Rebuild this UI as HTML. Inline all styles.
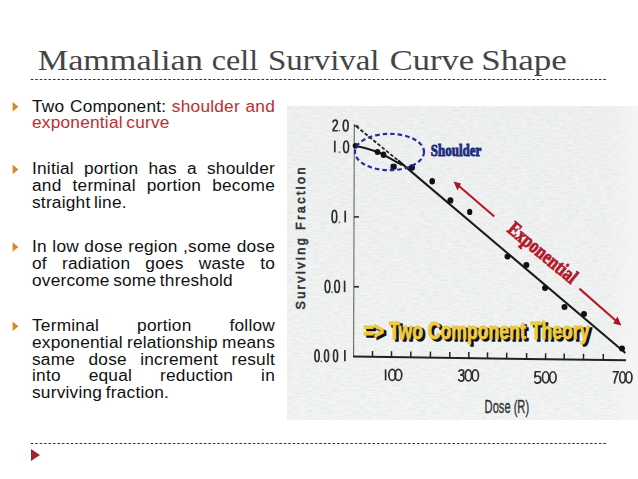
<!DOCTYPE html>
<html><head><meta charset="utf-8">
<style>
html,body{margin:0;padding:0;background:#fff;}
body{width:638px;height:479px;position:relative;overflow:hidden;font-family:"Liberation Sans",sans-serif;}
.ln{position:absolute;left:32px;width:243px;font-size:17.3px;line-height:20px;color:#111;white-space:nowrap;letter-spacing:0.22px;word-spacing:-1.5px;}
.j{text-align:justify;text-align-last:justify;}
.r{color:#c22c2e;}
</style></head><body>
<svg style="position:absolute;left:0;top:0" width="638" height="90"><g font-family="Liberation Serif, serif" font-size="28.7" fill="#454545" lengthAdjust="spacingAndGlyphs">
<text x="37.8" y="70" textLength="165" lengthAdjust="spacingAndGlyphs">Mammalian</text>
<text x="211.8" y="70" textLength="46.3" lengthAdjust="spacingAndGlyphs">cell</text>
<text x="268" y="70" textLength="111.5" lengthAdjust="spacingAndGlyphs">Survival</text>
<text x="389.7" y="70" textLength="84.3" lengthAdjust="spacingAndGlyphs">Curve</text>
<text x="481.2" y="70" textLength="85.5" lengthAdjust="spacingAndGlyphs">Shape</text>
</g></svg>
<svg style="position:absolute;left:0;top:0" width="638" height="479"><g stroke="#3d3333" stroke-width="1.1" stroke-dasharray="2.6 1.838"><line x1="30.8" y1="79.5" x2="606" y2="79.5"/><line x1="30.8" y1="443.5" x2="606" y2="443.5"/></g></svg>

<div class="ln j" style="top:95.5px">Two Component: <span class="r">shoulder and</span></div>
<div class="ln r" style="top:112.3px">exponential curve</div>

<div class="ln j" style="top:158px">Initial portion has a shoulder</div>
<div class="ln j" style="top:175px">and terminal portion become</div>
<div class="ln" style="top:192px">straight line.</div>

<div class="ln j" style="top:235.8px">In low dose region ,some dose</div>
<div class="ln j" style="top:252.8px">of radiation goes waste to</div>
<div class="ln" style="top:269.6px">overcome some threshold</div>

<div class="ln j" style="top:314.8px">Terminal portion follow</div>
<div class="ln j" style="top:331.7px">exponential relationship means</div>
<div class="ln j" style="top:348.6px">same dose increment result</div>
<div class="ln j" style="top:365.4px">into equal reduction in</div>
<div class="ln" style="top:382.3px">surviving fraction.</div>

<svg style="position:absolute;left:0;top:0" width="60" height="479"><g fill="#dc862c">
<polygon points="12.6,102 18.4,106.8 12.6,111.6"/>
<polygon points="12.6,164.6 18.4,169.4 12.6,174.2"/>
<polygon points="12.6,242.2 18.4,247 12.6,251.8"/>
<polygon points="12.6,321.4 18.4,326.2 12.6,331"/>
</g><polygon points="31,449 40,455 31,461" fill="#a3202c"/></svg>

<svg style="position:absolute;left:0;top:0" width="638" height="479" viewBox="0 0 638 479">
  <defs>
    <linearGradient id="bg" x1="0" y1="0" x2="0" y2="1">
      <stop offset="0" stop-color="#f0f2f2"/>
      <stop offset="0.5" stop-color="#f1f3f3"/>
      <stop offset="1" stop-color="#f3f5f5"/>
    </linearGradient>
    <linearGradient id="bgr" x1="0" y1="0" x2="1" y2="0">
      <stop offset="0" stop-color="#f4f6f4" stop-opacity="0"/>
      <stop offset="1" stop-color="#f4f6f4" stop-opacity="1"/>
    </linearGradient>
    <filter id="tex" x="0" y="0" width="100%" height="100%">
      <feTurbulence type="fractalNoise" baseFrequency="0.15 0.6" numOctaves="2" seed="3" result="n"/>
      <feColorMatrix type="matrix" values="0 0 0 0 0.55  0 0 0 0 0.57  0 0 0 0 0.57  0 0 0 -1.6 1.0" />
    </filter>
  </defs>
  <rect x="287" y="106" width="351" height="314" fill="url(#bg)"/>
  <rect x="287" y="106" width="351" height="314" filter="url(#tex)" opacity="0.3"/>
  <rect x="610" y="106" width="28" height="314" fill="url(#bgr)"/>
  <g font-family="Liberation Sans, sans-serif" fill="#2a2a2a">
    <!-- axes -->
    <line x1="354.3" y1="124" x2="353.6" y2="357" stroke="#666" stroke-width="1.1"/>
    <line x1="353" y1="356.6" x2="626" y2="360.3" stroke="#222" stroke-width="2"/>
    <g stroke="#222" stroke-width="1.5">
      <line x1="372.5" y1="357" x2="372.5" y2="351"/>
      <line x1="391.5" y1="357.2" x2="391.5" y2="351.2"/>
      <line x1="410.8" y1="357.4" x2="410.8" y2="351.4"/>
      <line x1="430.4" y1="357.6" x2="430.4" y2="351.6"/>
      <line x1="449.8" y1="357.9" x2="449.8" y2="351.9"/>
      <line x1="468.8" y1="358.1" x2="468.8" y2="352.1"/>
      <line x1="487.5" y1="358.4" x2="487.5" y2="352.4"/>
      <line x1="506.7" y1="358.7" x2="506.7" y2="352.7"/>
      <line x1="526.6" y1="359" x2="526.6" y2="353"/>
      <line x1="545.6" y1="359.3" x2="545.6" y2="353.3"/>
      <line x1="564.2" y1="359.5" x2="564.2" y2="353.5"/>
      <line x1="583.5" y1="359.8" x2="583.5" y2="353.8"/>
      <line x1="603.3" y1="360" x2="603.3" y2="354"/>
      <line x1="354" y1="126" x2="358.5" y2="126"/>
      <line x1="354" y1="216.9" x2="359" y2="216.9"/>
      <line x1="354" y1="286.8" x2="359" y2="286.8"/>
    </g>
    <!-- labels -->
    <g fill="none" stroke="#2e2e2e" stroke-width="1.7"><path d="M333.05,122.38 C333.05,119.35 337.35,119.35 337.35,122.64 C337.35,125.20 333.05,127.76 333.05,130.75 L337.77,130.75"/><circle cx="339.30" cy="130.60" r="0.94" stroke="none" fill="#777"/><ellipse cx="345.70" cy="125.50" rx="2.45" ry="5.45"/><path d="M334.80,140.65 L334.80,152.35"/><circle cx="339.50" cy="152.20" r="0.94" stroke="none" fill="#777"/><ellipse cx="346.10" cy="146.80" rx="2.45" ry="5.75"/><ellipse cx="334.40" cy="216.50" rx="2.35" ry="6.05"/><circle cx="339.40" cy="222.40" r="0.94" stroke="none" fill="#777"/><path d="M345.20,210.65 L345.20,222.35"/><ellipse cx="327.50" cy="286.40" rx="2.35" ry="5.95"/><circle cx="332.00" cy="292.20" r="0.94" stroke="none" fill="#777"/><ellipse cx="337.10" cy="286.40" rx="2.35" ry="5.95"/><path d="M344.60,280.65 L344.60,292.15"/><ellipse cx="317.05" cy="355.70" rx="2.10" ry="5.85"/><circle cx="321.30" cy="361.40" r="0.94" stroke="none" fill="#777"/><ellipse cx="326.55" cy="355.70" rx="2.00" ry="5.85"/><ellipse cx="335.55" cy="355.70" rx="2.00" ry="5.85"/><path d="M344.90,350.05 L344.90,361.35"/><path d="M385.60,369.35 L385.60,380.35"/><ellipse cx="392.25" cy="374.90" rx="3.40" ry="5.55"/><ellipse cx="398.40" cy="374.90" rx="3.35" ry="5.55"/><path d="M458.65,371.82 C459.15,369.55 463.75,369.00 463.75,372.07 C463.75,374.39 461.20,374.89 460.18,374.89 C463.95,374.89 463.95,376.68 463.95,378.47 C463.75,382.10 458.65,381.80 458.65,378.98"/><ellipse cx="468.40" cy="375.40" rx="3.15" ry="5.55"/><ellipse cx="475.30" cy="375.40" rx="3.15" ry="5.55"/><path d="M540.75,371.75 L535.35,371.75 L534.95,376.70 C536.98,375.54 540.75,375.54 540.75,379.67 C540.75,384.10 534.75,383.80 534.75,381.22"/><ellipse cx="545.70" cy="377.35" rx="3.25" ry="5.60"/><ellipse cx="552.90" cy="377.35" rx="3.15" ry="5.60"/><path d="M612.65,371.75 L618.15,371.75 C615.76,376.70 614.68,379.93 614.32,383.55"/><ellipse cx="622.55" cy="377.35" rx="2.80" ry="5.60"/><ellipse cx="628.90" cy="377.35" rx="3.05" ry="5.60"/></g>
    <text x="484.6" y="412.6" font-size="17.5" fill="#333" stroke="#333" stroke-width="0.35" textLength="44.5" lengthAdjust="spacingAndGlyphs">Dose (R)</text>
    <text transform="translate(304.6,309.5) rotate(-90)" font-size="12.5" font-weight="normal" fill="#333" stroke="#333" stroke-width="0.65" textLength="142" lengthAdjust="spacing">Surviving Fraction</text>
  </g>
  <!-- data line -->
  <line x1="356.3" y1="126.3" x2="400" y2="162" stroke="#222" stroke-width="1.8" stroke-dasharray="3.5 2"/>
  <line x1="398" y1="160.4" x2="625.4" y2="353" stroke="#1a1a1a" stroke-width="2.1"/>
  <path d="M355,145.7 C362,147 370,149 378,152 C385,155 392,160 402,165" fill="none" stroke="#1a1a1a" stroke-width="2"/>
  <g fill="#111">
    <circle cx="355.5" cy="145.7" r="2.8"/>
    <ellipse cx="377.5" cy="152" rx="2.8" ry="3"/>
    <ellipse cx="383.5" cy="154.8" rx="2.8" ry="3.2"/>
    <rect x="390.5" y="163.8" width="6.2" height="6" rx="1.8" fill="#101030"/>
    <ellipse cx="412" cy="167.5" rx="3" ry="3.2" fill="#101030"/>
    <ellipse cx="432.2" cy="181.3" rx="2.8" ry="3.2"/>
    <ellipse cx="450.4" cy="200.4" rx="3" ry="3.2"/>
    <ellipse cx="469.7" cy="211.9" rx="2.6" ry="3.2"/>
    <ellipse cx="507.5" cy="256.5" rx="3" ry="3"/>
    <ellipse cx="526.4" cy="265" rx="3" ry="3"/>
    <ellipse cx="545" cy="288" rx="3" ry="3"/>
    <ellipse cx="564.5" cy="307" rx="3" ry="3"/>
    <ellipse cx="584" cy="314" rx="3" ry="3"/>
    <ellipse cx="622" cy="348.5" rx="3" ry="3"/>
  </g>
  <!-- shoulder ellipse -->
  <ellipse cx="389.5" cy="152" rx="34.5" ry="18.2" fill="none" stroke="#2a2aa0" stroke-width="2.2" stroke-dasharray="4.5 3"/>
  <text x="430.8" y="156.4" font-family="Liberation Serif, serif" font-weight="bold" font-size="16.5" fill="#1a2c7c" stroke="#1a2c7c" stroke-width="0.9" textLength="50.5" lengthAdjust="spacingAndGlyphs">Shoulder</text>
  <!-- arrows -->
  <line x1="456" y1="183.5" x2="494.3" y2="216.5" stroke="#b81c2a" stroke-width="2.2"/>
  <path d="M453.5,181.4 L461,183.6 L457.5,190.5 Z" fill="#a81626"/>
  <line x1="579.4" y1="288.7" x2="618" y2="322.5" stroke="#b81c2a" stroke-width="2.2"/>
  <path d="M621.3,325.5 L617.5,316.5 L613.2,323.5 Z" fill="#a81626"/>
  <text transform="translate(506.2,231) rotate(39.6)" font-family="Liberation Serif, serif" font-weight="bold" font-size="20.5" fill="#b41a28" stroke="#b01828" stroke-width="0.8" textLength="84" lengthAdjust="spacingAndGlyphs">Exponential</text>
  <!-- theory -->
  <g font-family="Liberation Sans, sans-serif" font-weight="bold" font-size="23.5">
    <text x="366" y="341" fill="#111" stroke="#111" stroke-width="1.4" textLength="226" lengthAdjust="spacingAndGlyphs">=&gt; Two Component Theory</text>
    <text x="363.5" y="338.5" fill="#f2d04a" stroke="#e6c236" stroke-width="0.9" textLength="226" lengthAdjust="spacingAndGlyphs">=&gt; Two Component Theory</text>
  </g>
</svg>
</body></html>
